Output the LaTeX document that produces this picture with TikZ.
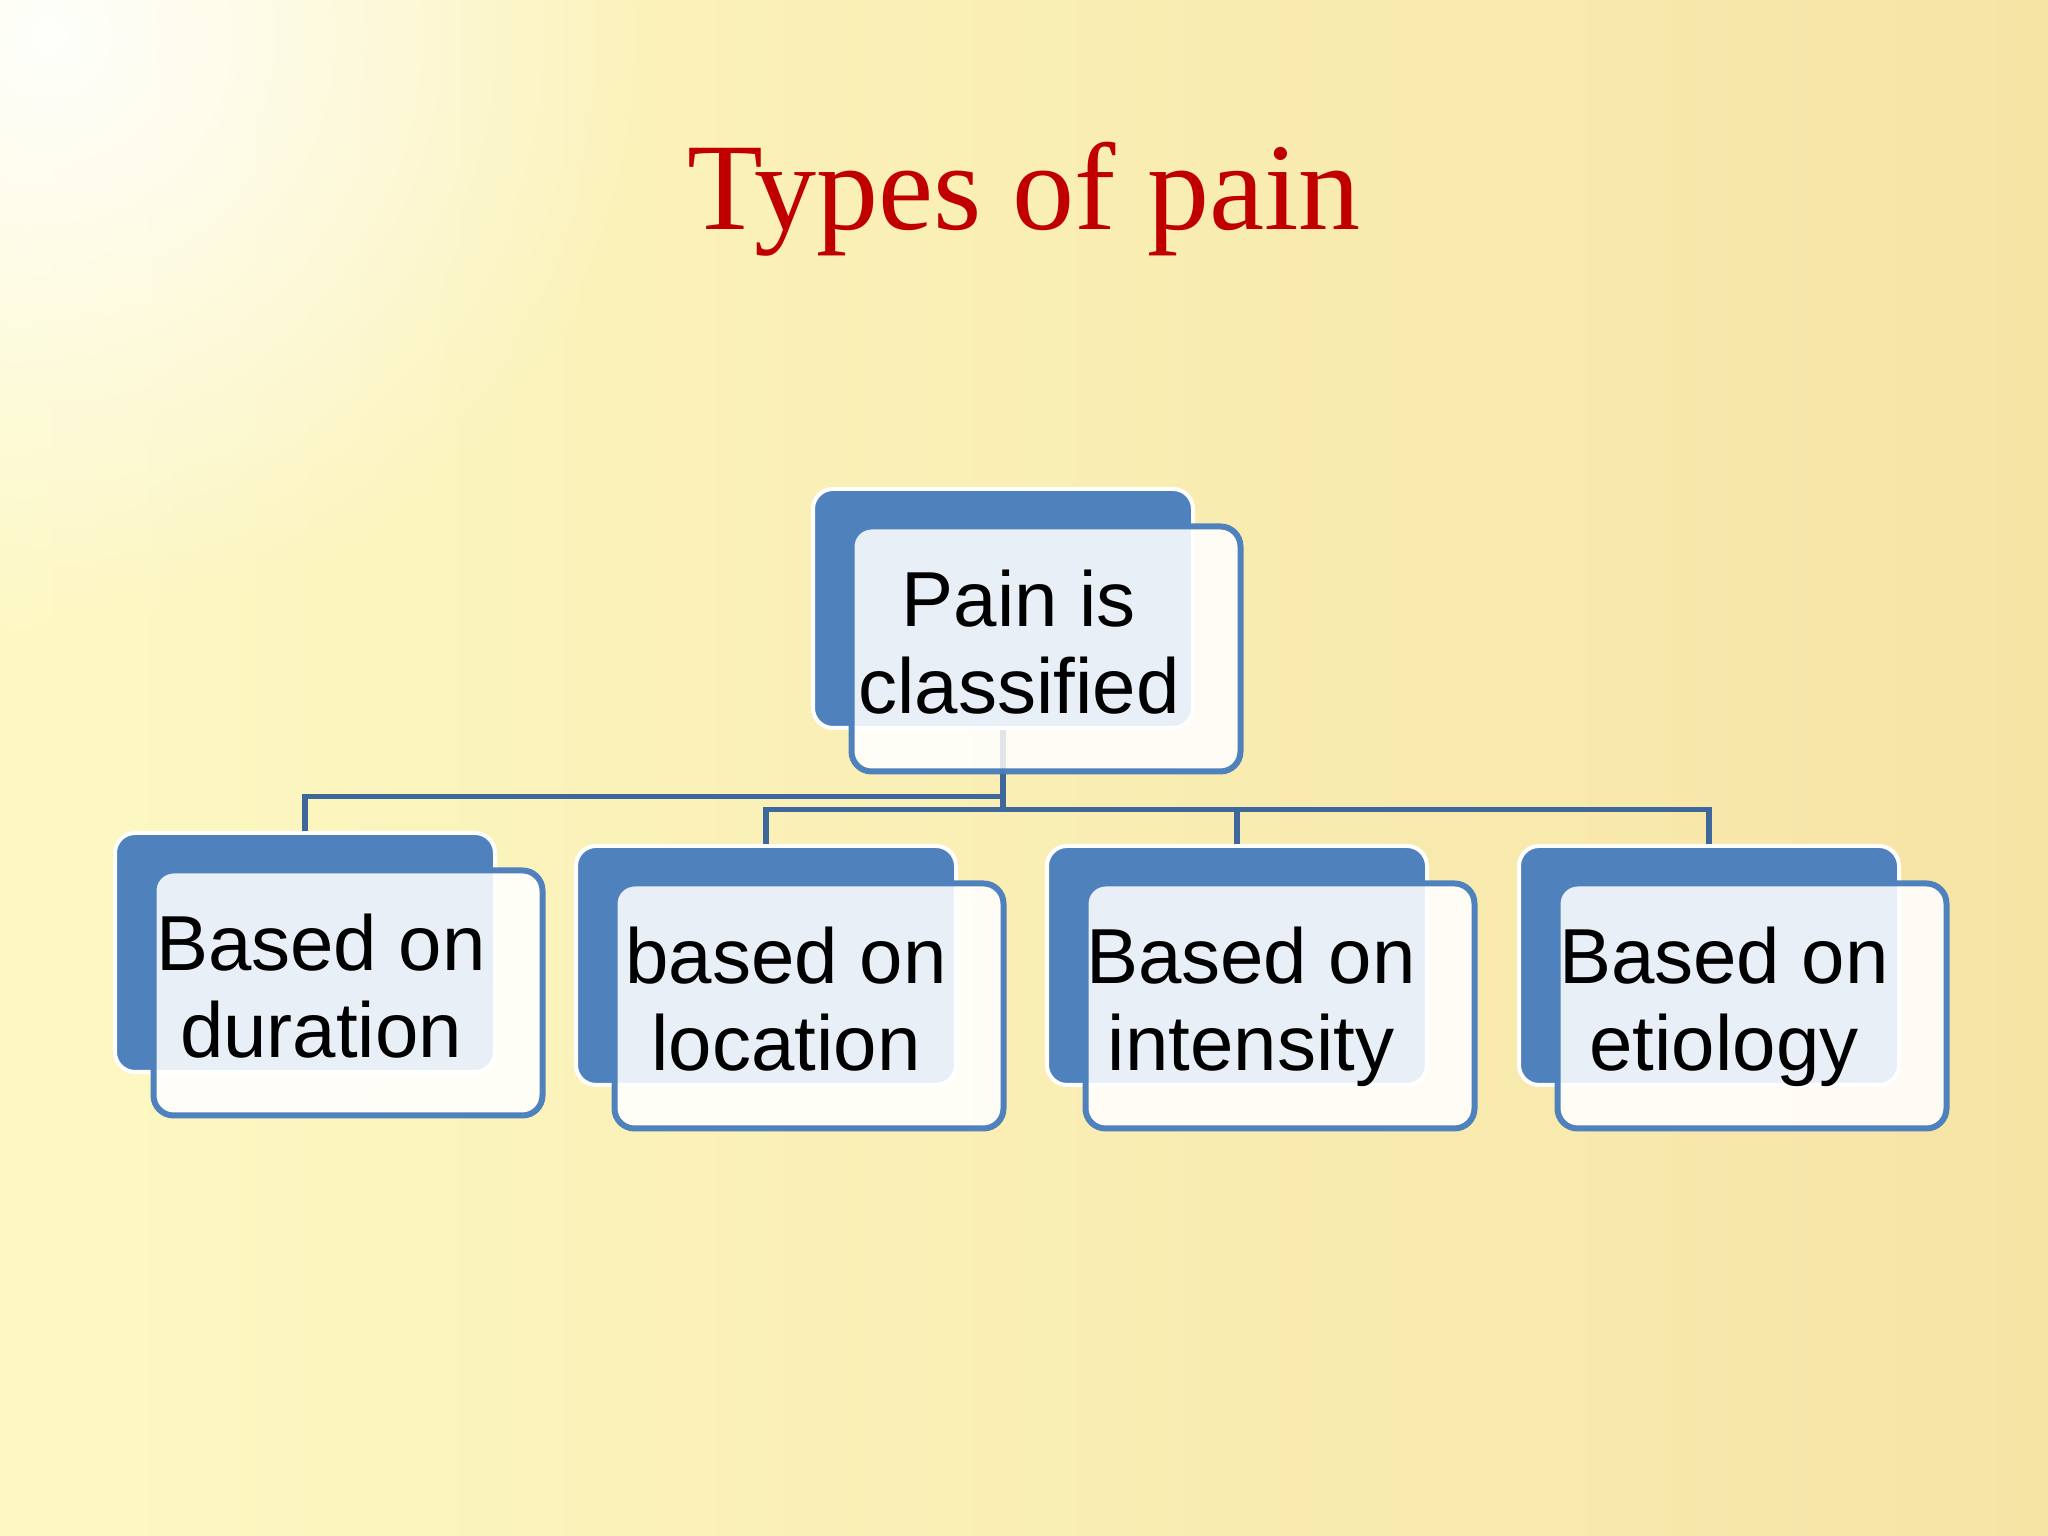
\documentclass[tikz,border=0pt]{standalone}
\usepackage{fontspec}
\setmainfont{Liberation Serif}
\newfontfamily\boxfont{Liberation Sans}
\usetikzlibrary{positioning,calc,fadings}

\definecolor{boxblue}{RGB}{79,129,189}
\definecolor{linkblue}{RGB}{62,104,156}
\definecolor{titlered}{RGB}{192,0,0}
\definecolor{bgleft}{RGB}{253,248,195}
\definecolor{bgright}{RGB}{246,228,165}

\tikzfading[name=glow, inner color=transparent!0, outer color=transparent!100]

\tikzset{
  backbox/.style={rectangle, rounded corners=0.2cm, fill=boxblue, draw=white,
    line width=0.04cm, minimum width=3.8cm, minimum height=2.39cm, inner sep=0pt},
  frontbox/.style={rectangle, rounded corners=0.2cm, fill=white, fill opacity=0.88,
    draw=boxblue, line width=0.06cm, minimum width=3.89cm, minimum height=2.45cm, inner sep=0pt},
  boxtext/.style={font=\boxfont\fontsize{22.2}{24.7}\selectfont, align=center, inner sep=0pt,
    execute at begin node=\strut, execute at end node=\strut},
  link/.style={draw=linkblue, line width=0.055cm}
}

\begin{document}
\begin{tikzpicture}
    \useasboundingbox (0,0) rectangle (20.48,15.36);
    % background
    \shade[left color=bgleft, right color=bgright] (0,0) rectangle (20.48,15.36);
    \begin{scope}
      \clip (0,0) rectangle (20.48,15.36);
      \fill[white, path fading=glow, opacity=0.95] (0.5,15) circle (6);
    \end{scope}

    \node[font=\fontsize{35.3}{40}\selectfont, text=titlered, anchor=base, inner sep=0pt] (title) at (10.24,13.06) {Types of pain};

    % top box
    \node[backbox] (painb) at (10.03,9.275) {};
    \node[frontbox] (pain) at ([shift={(0.43,-0.405)}]painb) {};
    \node[boxtext] (paint) at ([shift={(0.16,-0.46)}]painb) {Pain is\\classified};

    % lower boxes
    \node[backbox] (durb) at (3.05,5.835) {};
    \node[frontbox] (dur) at ([shift={(0.43,-0.405)}]durb) {};
    \node[boxtext] (durt) at ([shift={(0.16,-0.46)}]durb) {Based on\\duration};

    \node[backbox] (locb) at (7.66,5.705) {};
    \node[frontbox] (loc) at ([shift={(0.43,-0.405)}]locb) {};
    \node[boxtext] (loct) at ([shift={(0.2,-0.46)}]locb) {based on\\location};

    \node[backbox] (intb) at (12.37,5.705) {};
    \node[frontbox] (int) at ([shift={(0.43,-0.405)}]intb) {};
    \node[boxtext] (intt) at ([shift={(0.14,-0.46)}]intb) {Based on\\intensity};

    \node[backbox] (etib) at (17.09,5.705) {};
    \node[frontbox] (eti) at ([shift={(0.43,-0.405)}]etib) {};
    \node[boxtext] (etit) at ([shift={(0.15,-0.46)}]etib) {Based on\\etiology};

    % connectors
    \draw[link, opacity=0.15] (painb.south) -- (painb.south |- pain.south);
    \draw[link] (painb.south |- pain.south) -- ++(0,-0.22) -| (durb.north);
    \draw[link] (painb.south |- pain.south) -- ++(0,-0.35) -| (locb.north);
    \draw[link] (painb.south |- pain.south) -- ++(0,-0.35) -| (intb.north);
    \draw[link] (painb.south |- pain.south) -- ++(0,-0.35) -| (etib.north);
\end{tikzpicture}
\end{document}
